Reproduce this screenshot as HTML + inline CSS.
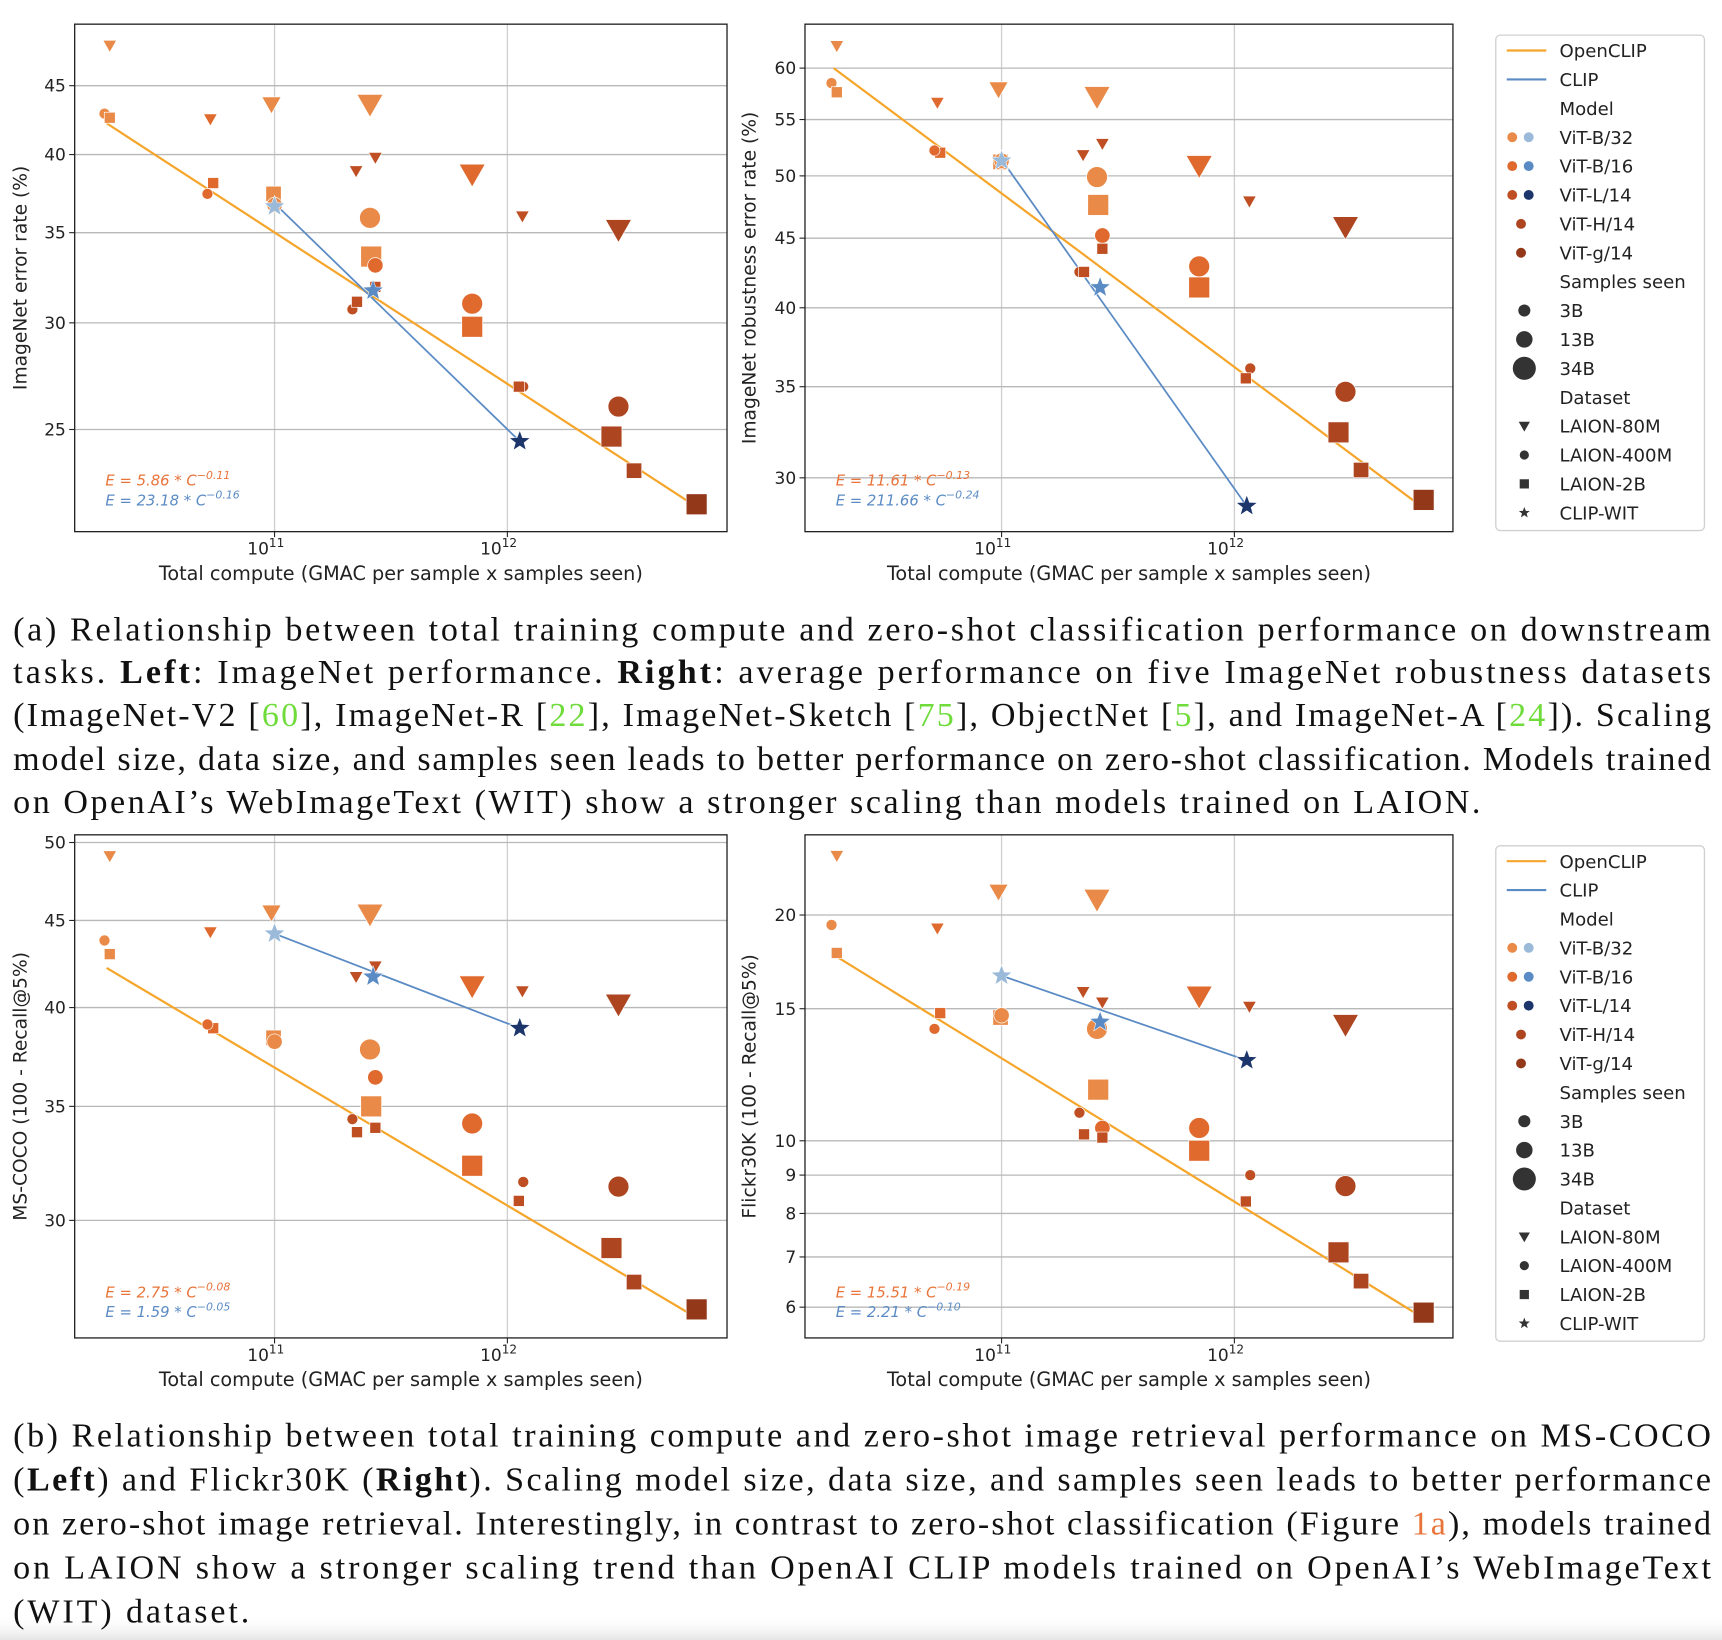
<!DOCTYPE html>
<html><head><meta charset="utf-8"><style>
html,body{margin:0;padding:0;background:#fff}
svg{display:block}
</style></head><body>
<svg id="fig" width="1722" height="1640" viewBox="0 0 1568 1493" preserveAspectRatio="none" xmlns="http://www.w3.org/2000/svg" font-family="'DejaVu Sans','Liberation Sans',sans-serif">
<defs><linearGradient id="shade" x1="0" y1="0" x2="0" y2="1"><stop offset="0" stop-color="#fff" stop-opacity="0"/><stop offset="1" stop-color="#e4e4e4"/></linearGradient></defs>
<rect x="0" y="1470" width="1568" height="23" fill="url(#shade)"/>
<g id="charts"></g>
<g font-family="'Liberation Serif',serif" font-size="31" fill="#111">
<text x="12" y="583" textLength="1546" lengthAdjust="spacing">(a) Relationship between total training compute and zero-shot classification performance on downstream</text>
<text x="12" y="622" textLength="1546" lengthAdjust="spacing">tasks. <tspan font-weight="bold">Left</tspan>: ImageNet performance. <tspan font-weight="bold">Right</tspan>: average performance on five ImageNet robustness datasets</text>
<text x="12" y="661" textLength="1546" lengthAdjust="spacing">(ImageNet-V2 [<tspan fill="#6fdc3c">60</tspan>], ImageNet-R [<tspan fill="#6fdc3c">22</tspan>], ImageNet-Sketch [<tspan fill="#6fdc3c">75</tspan>], ObjectNet [<tspan fill="#6fdc3c">5</tspan>], and ImageNet-A [<tspan fill="#6fdc3c">24</tspan>]). Scaling</text>
<text x="12" y="701" textLength="1546" lengthAdjust="spacing">model size, data size, and samples seen leads to better performance on zero-shot classification. Models trained</text>
<text x="12" y="740" textLength="1336" lengthAdjust="spacing">on OpenAI’s WebImageText (WIT) show a stronger scaling than models trained on LAION.</text>
</g>
<g font-family="'Liberation Serif',serif" font-size="31" fill="#111">
<text x="12" y="1317" textLength="1546" lengthAdjust="spacing">(b) Relationship between total training compute and zero-shot image retrieval performance on MS-COCO</text>
<text x="12" y="1357" textLength="1546" lengthAdjust="spacing">(<tspan font-weight="bold">Left</tspan>) and Flickr30K (<tspan font-weight="bold">Right</tspan>). Scaling model size, data size, and samples seen leads to better performance</text>
<text x="12" y="1397" textLength="1546" lengthAdjust="spacing">on zero-shot image retrieval. Interestingly, in contrast to zero-shot classification (Figure  <tspan fill="#e8743a">1a</tspan>), models trained</text>
<text x="12" y="1437" textLength="1546" lengthAdjust="spacing">on LAION show a stronger scaling trend than OpenAI CLIP models trained on OpenAI’s WebImageText</text>
<text x="12" y="1477" textLength="215" lengthAdjust="spacing">(WIT) dataset.</text>
</g>
</svg>
<script>
// ---- data ----
const compute = [1.96e10,1.86e10,1.96e10,5.3e10,5.45e10,5.15e10,0.97e11,0.99e11,1.0e11,2.16e11,2.26e11,2.24e11,2.57e11,2.57e11,2.6e11,2.71e11,2.71e11,2.71e11,7.06e11,7.06e11,7.06e11,1.16e12,1.17e12,1.12e12,3.0e12,3.0e12,2.8e12,3.5e12,6.5e12];
const modelName = ['B32','B32','B32','B16','B16','B16','B32','B32','B32','L14','L14','L14','B32','B32','B32','B16','L14','L14','B16','B16','B16','L14','L14','L14','H14','H14','H14','H14','g14'];
const samples = ['3B','3B','3B','3B','3B','3B','13B','13B','13B','3B','3B','3B','34B','34B','34B','13B','3B','3B','34B','34B','34B','3B','3B','3B','34B','34B','34B','13B','34B'];
const dataset = ['80M','400M','2B','80M','2B','400M','80M','2B','400M','400M','2B','80M','80M','400M','2B','400M','2B','80M','80M','400M','2B','80M','400M','2B','80M','400M','2B','2B','2B'];
const imagenetErr = [48.2,42.9,42.6,42.5,38.1,37.4,43.6,37.4,36.7,30.7,31.1,38.9,43.6,35.9,33.6,33.1,31.9,39.8,38.7,31.0,29.8,36.0,26.9,26.9,35.2,26.0,24.7,23.3,22.0];
const robustErr = [62.3,58.5,57.6,56.6,52.0,52.2,57.9,51.2,51.3,42.5,42.5,51.8,57.2,49.9,47.6,45.2,44.2,52.8,50.9,42.9,41.4,47.9,36.1,35.5,45.9,34.7,32.4,30.4,28.9];
const cocoErr = [49.1,43.8,43.0,44.3,38.9,39.1,45.5,38.4,38.2,34.4,33.8,41.7,45.4,37.8,35.0,36.4,34.0,42.3,41.2,34.2,32.3,40.9,31.6,30.8,40.2,31.4,28.9,27.6,26.6];
const flickrErr = [24.0,19.4,17.8,19.2,14.8,14.1,21.5,14.6,14.7,10.9,10.2,15.8,21.0,14.1,11.7,10.4,10.1,15.3,15.6,10.4,9.7,15.1,9.0,8.3,14.3,8.7,7.1,6.5,5.9];
const clipCompute = [1.0e11,2.65e11,1.13e12];
const clipModel = ['B32','B16','L14'];
const clipImagenet = [36.6,31.7,24.5];
const clipRobust = [51.3,41.4,28.6];
const clipCoco = [44.2,41.7,38.9];
const clipFlickr = [16.6,14.4,12.8];
const fitCompute = [1.9e10,6.5e12];
const openclipFitImagenet = [42.2,21.9];
const openclipFitRobust = [60.0,28.5];
const openclipFitCoco = [42.2,26.3];
const openclipFitFlickr = [17.7,5.8];
const clipFitCompute = [1.0e11,1.13e12];
const clipFitImagenet = [36.8,24.5];
const clipFitRobust = [51.4,28.6];
const clipFitCoco = [44.2,38.9];
const clipFitFlickr = [16.6,12.8];
const yTicksImagenet = [25,30,35,40,45];
const yTicksRobust = [30,35,40,45,50,55,60];
const yTicksCoco = [30,35,40,45,50];
const yTicksFlickr = [6,7,8,9,10,15,20];
const xTickExp = [11,12];

// ---- styling (not data) ----
const orangeColor = {B32:'#ea8a48',B16:'#e06a2e',L14:'#bf4e22',H14:'#ad4520',g14:'#94381a'};
const blueColor = {B32:'#9bbad9',B16:'#5b8bc4',L14:'#1c356b'};
const sizeR = {'3B':5,'13B':7,'34B':9.5};
const NS='http://www.w3.org/2000/svg';
const root=document.getElementById('charts');
function mk(tag,attrs,parent){const e=document.createElementNS(NS,tag);for(const k in attrs)e.setAttribute(k,attrs[k]);(parent||root).appendChild(e);return e;}

const panels=[
 {name:'imagenet',x0:68,x1:662,y0:22,y1:484,xA:250,dec:212,ya:[45,78],yb:[25,391],vals:imagenetErr,cv:clipImagenet,of:openclipFitImagenet,cf:clipFitImagenet,ticks:yTicksImagenet,ylab:'ImageNet error rate (%)',lx:24,ann:['5.86','−0.11','23.18','−0.16'],ay:437},
 {name:'robustness',x0:733,x1:1323,y0:22,y1:484,xA:912,dec:212,ya:[60,62],yb:[30,435],vals:robustErr,cv:clipRobust,of:openclipFitRobust,cf:clipFitRobust,ticks:yTicksRobust,ylab:'ImageNet robustness error rate (%)',lx:688,ann:['11.61','−0.13','211.66','−0.24'],ay:437},
 {name:'mscoco',x0:68,x1:662,y0:760,y1:1218,xA:250,dec:212,ya:[50,767],yb:[30,1111],vals:cocoErr,cv:clipCoco,of:openclipFitCoco,cf:clipFitCoco,ticks:yTicksCoco,ylab:'MS-COCO (100 - Recall@5%)',lx:24,ann:['2.75','−0.08','1.59','−0.05'],ay:1176},
 {name:'flickr30k',x0:733,x1:1323,y0:760,y1:1218,xA:912,dec:212,ya:[20,833],yb:[6,1190],vals:flickrErr,cv:clipFlickr,of:openclipFitFlickr,cf:clipFitFlickr,ticks:yTicksFlickr,ylab:'Flickr30K (100 - Recall@5%)',lx:688,ann:['15.51','−0.19','2.21','−0.10'],ay:1176}
];

function tri(g,cx,cy,r,fill){const s=r*1.25;return mk('polygon',{points:`${cx-s},${cy-s*0.75} ${cx+s},${cy-s*0.75} ${cx},${cy+s*1.0}`,fill:fill,stroke:'#fff','stroke-width':0.6},g);}
function star(g,cx,cy,r,fill){let p=[];for(let i=0;i<10;i++){const a=-Math.PI/2+i*Math.PI/5;const rr=i%2?r*0.42:r;p.push((cx+rr*Math.cos(a)).toFixed(1)+','+(cy+rr*Math.sin(a)).toFixed(1));}return mk('polygon',{points:p.join(' '),fill:fill,stroke:'#fff','stroke-width':0.5},g);}
function marker(g,ds,cx,cy,r,fill){
  if(ds==='80M') return tri(g,cx,cy,r,fill);
  if(ds==='400M') return mk('circle',{cx:cx,cy:cy,r:r,fill:fill,stroke:'#fff','stroke-width':0.6},g);
  if(ds==='2B') return mk('rect',{x:cx-r,y:cy-r,width:2*r,height:2*r,fill:fill,stroke:'#fff','stroke-width':0.6},g);
  return star(g,cx,cy,r,fill);
}

panels.forEach(P=>{
  const g=mk('g',{});
  
  
  const X=c=>P.xA+(Math.log10(c)-11)*P.dec;
  const Y=v=>P.ya[1]+(Math.log(v)-Math.log(P.ya[0]))/(Math.log(P.yb[0])-Math.log(P.ya[0]))*(P.yb[1]-P.ya[1]);
  xTickExp.forEach(e=>{const x=X(Math.pow(10,e));
    const l=mk('line',{x1:x,x2:x,y1:P.y0,y2:P.y1,stroke:'#cfcfcf','stroke-width':1.2},g);
    
    
    mk('line',{x1:x,x2:x,y1:P.y1,y2:P.y1+5,stroke:'#222'},g);
    const t=mk('text',{x:x-8,y:P.y1+21,'font-size':15.5,'text-anchor':'middle',fill:'#222'},g);
    
    
    t.textContent='10';const s=mk('tspan',{dy:-7,'font-size':11},t);s.textContent=String(e);
  });
  P.ticks.forEach(v=>{const y=Y(v);
    const l=mk('line',{x1:P.x0,x2:P.x1,y1:y,y2:y,stroke:'#b8b8b8','stroke-width':1.2},g);
    
    
    mk('line',{x1:P.x0-5,x2:P.x0,y1:y,y2:y,stroke:'#222'},g);
    const t=mk('text',{x:P.x0-8,y:y+5.5,'font-size':15.5,'text-anchor':'end',fill:'#222'},g);
    
    
    t.textContent=String(v);
  });
  const ol=mk('line',{x1:X(fitCompute[0]),y1:Y(P.of[0]),x2:X(fitCompute[1]),y2:Y(P.of[1]),stroke:'#f5a52a','stroke-width':2},g);
  
  
  const cl=mk('line',{x1:X(clipFitCompute[0]),y1:Y(P.cf[0]),x2:X(clipFitCompute[1]),y2:Y(P.cf[1]),stroke:'#5b8bc4','stroke-width':1.6},g);
  
  
  compute.forEach((c,i)=>{
    const m=marker(g,dataset[i],X(c),Y(P.vals[i]),sizeR[samples[i]],orangeColor[modelName[i]]);
    
    
  });
  clipCompute.forEach((c,i)=>{
    const m=star(g,X(c),Y(P.cv[i]),10,blueColor[clipModel[i]]);
    
    
  });
  const f=mk('rect',{x:P.x0,y:P.y0,width:P.x1-P.x0,height:P.y1-P.y0,fill:'none',stroke:'#222','stroke-width':1.2},g);
  
  
  const xl=mk('text',{x:(P.x0+P.x1)/2,y:P.y1+44,'font-size':17.5,'text-anchor':'middle',fill:'#222'},g);
  
  
  xl.textContent='Total compute (GMAC per sample x samples seen)';
  const cy=(P.y0+P.y1)/2;
  const yl=mk('text',{x:P.lx,y:cy,'font-size':17,'text-anchor':'middle',fill:'#222',transform:`rotate(-90 ${P.lx} ${cy})`},g);
  
  
  yl.textContent=P.ylab;
  [[P.ann[0],P.ann[1],'#e8743a',P.ay],[P.ann[2],P.ann[3],'#5b8bc4',P.ay+18]].forEach((a,k)=>{
    const t=mk('text',{x:P.x0+28,y:a[3]+5,'font-size':13.5,fill:a[2],'font-style':'italic'},g);
    
    
    t.textContent='E = '+a[0]+' * C';
    const s=mk('tspan',{dy:-6,'font-size':10},t);s.textContent=a[1];
  });
});

const legendEntries=[
 ['line','#f5a52a','OpenCLIP'],['line','#5b8bc4','CLIP'],['hdr','','Model'],
 ['dots',['#ea8a48','#9bbad9'],'ViT-B/32'],['dots',['#e06a2e','#5b8bc4'],'ViT-B/16'],['dots',['#bf4e22','#1c356b'],'ViT-L/14'],
 ['dot','#ad4520','ViT-H/14'],['dot','#94381a','ViT-g/14'],['hdr','','Samples seen'],
 ['size',5.5,'3B'],['size',7.5,'13B'],['size',10.5,'34B'],['hdr','','Dataset'],
 ['m','80M','LAION-80M'],['m','400M','LAION-400M'],['m','2B','LAION-2B'],['m','WIT','CLIP-WIT']];
[32,770].forEach((top,li)=>{
  const g=mk('g',{});
  
  
  mk('rect',{x:1362,y:top,width:190,height:451,rx:4,fill:'#fff',stroke:'#d0d0d0','stroke-width':1.2},g);
  legendEntries.forEach((e,i)=>{
    const y=top+14+i*26.3;
    const eg=mk('g',{},g);
    
    
    if(e[0]==='line') mk('line',{x1:1372,x2:1408,y1:y,y2:y,stroke:e[1],'stroke-width':2},eg);
    if(e[0]==='dots'){mk('circle',{cx:1377,cy:y,r:4.5,fill:e[1][0]},eg);mk('circle',{cx:1392,cy:y,r:4.5,fill:e[1][1]},eg);}
    if(e[0]==='dot') mk('circle',{cx:1385,cy:y,r:4.5,fill:e[1]},eg);
    if(e[0]==='size') mk('circle',{cx:1388,cy:y,r:e[1],fill:'#333'},eg);
    if(e[0]==='m') marker(eg,e[1],1388,y,e[1]==='WIT'?6:4.5,'#333');
    const t=mk('text',{x:1420,y:y+6,'font-size':16.5,fill:'#222'},eg);
    t.textContent=e[2];
  });
});
</script>
</body></html>
